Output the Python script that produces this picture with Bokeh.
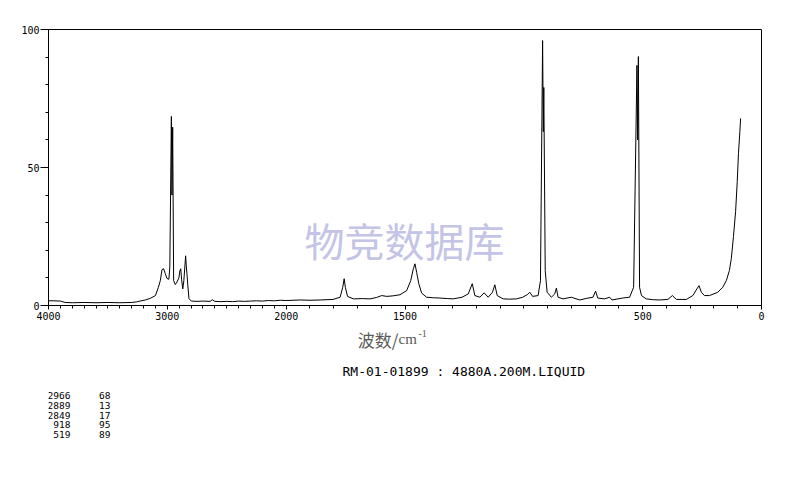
from bokeh.plotting import figure
from bokeh.models import Range1d, FixedTicker, Label, ColumnDataSource
from bokeh.layouts import column
from bokeh.embed import file_html
from bokeh.resources import INLINE

# ---- data ----
wavenumber = [4000, 3960, 3900, 3860, 3800, 3700, 3600, 3500, 3400, 3300, 3260, 3220,
              3185, 3143, 3100, 3076, 3059, 3045, 3031, 3017, 3003, 2987, 2979, 2966,
              2961, 2955, 2947, 2933, 2919, 2903, 2895, 2887, 2880, 2870, 2861, 2851,
              2846, 2840, 2835, 2828, 2818, 2798, 2750, 2700, 2640, 2622, 2600, 2550,
              2500, 2450, 2400, 2350, 2300, 2250, 2200, 2150, 2100, 2050, 2000,
              1941, 1900, 1857, 1803, 1773, 1762, 1756, 1751, 1742, 1717, 1680, 1647,
              1620, 1598, 1577, 1550, 1521, 1493, 1476, 1465, 1458, 1451, 1442, 1430,
              1409, 1380, 1353, 1320, 1297, 1260, 1234, 1217, 1206, 1185, 1167, 1150,
              1132, 1122, 1112, 1087, 1060, 1031, 1005, 986, 975, 963, 940, 930, 921,
              918, 916, 910, 902, 884, 870, 863, 856, 835, 800, 765, 735, 709, 698, 689,
              660, 639, 629, 585, 555, 538, 524, 521, 518, 513, 505, 485, 455, 429, 394,
              375, 358, 316, 289, 272, 263, 253, 240, 219, 184, 163, 148, 135, 127, 118,
              109, 102, 97, 91, 88]
intensity = [1.7, 1.7, 1.6, 1.1, 1.0, 1.1, 1.0, 1.1, 1.0, 1.1, 1.3, 1.7,
             2.0, 2.6, 3.6, 6.5, 9.0, 13.0, 13.3, 11.5, 9.8, 9.5, 14.0, 68.5,
             40.0, 64.6, 9.0, 7.6, 8.5, 10.0, 12.5, 13.3, 9.5, 6.0, 9.0, 15.0,
             18.0, 14.0, 11.6, 7.5, 2.5, 1.6, 1.5, 1.6, 1.5, 2.1, 1.5, 1.4,
             1.5, 1.4, 1.6, 1.5, 1.6, 1.7, 1.6, 1.8, 1.7, 1.9, 1.8,
             2.0, 1.9, 2.0, 2.2, 3.0, 6.6, 9.7, 6.6, 3.3, 2.4, 2.5, 2.4,
             2.9, 3.6, 3.3, 3.5, 3.9, 5.4, 9.0, 13.3, 15.1, 12.0, 7.9, 4.5,
             3.0, 2.8, 2.7, 2.5, 2.4, 3.0, 4.2, 7.9, 3.6, 3.0, 4.6, 3.0,
             4.8, 7.5, 3.6, 2.4, 2.3, 2.4, 3.0, 3.9, 4.8, 3.3, 3.6, 9.0, 96.0,
             63.0, 79.0, 12.7, 4.8, 3.0, 4.2, 6.3, 3.0, 2.4, 3.0, 2.0, 2.6, 3.0, 5.2, 2.7,
             2.4, 3.0, 2.0, 2.7, 3.0, 6.6, 87.0, 60.0, 90.2, 6.6, 3.6, 2.4, 2.1, 2.0, 2.2,
             3.6, 2.2, 2.2, 3.6, 6.0, 7.2, 4.8, 3.6, 3.6, 4.8, 6.6, 9.0, 12.7, 17.0, 25.0,
             34.0, 45.0, 55.0, 63.0, 67.8]

tick_wn = [4000, 3000, 2000, 1500, 500, 0]
y_ticks = [0, 50, 100]
peak_wn = [2966, 2889, 2849, 918, 519]
peak_int = [68, 13, 17, 95, 89]
title_text = "RM-01-01899 : 4880A.200M.LIQUID"
watermark = "物竞数据库"


def to_u(w):
    # axis is compressed 2x above 2000 cm-1
    return (4000 - w) / 1000.0 if w >= 2000 else 2.0 + (2000 - w) / 500.0


src = ColumnDataSource(dict(u=[to_u(w) for w in wavenumber], y=intensity))

# ---------------- spectrum panel ----------------
H1 = 323
p = figure(width=794, height=H1, x_range=Range1d(0, 6), y_range=Range1d(0, 100),
           output_backend="svg", toolbar_location=None,
           min_border_left=48, min_border_right=33, min_border_top=29, min_border_bottom=18)
p.background_fill_color = "white"
p.border_fill_color = "white"
p.outline_line_color = "black"
p.outline_line_width = 1
p.outline_line_alpha = 1
p.xgrid.visible = False
p.ygrid.visible = False

major_u = [to_u(w) for w in tick_wn]
minor_u = [to_u(w) for w in range(0, 4001, 100) if w not in tick_wn]
p.xaxis.ticker = FixedTicker(ticks=major_u, minor_ticks=minor_u)
p.xaxis.major_label_overrides = {u: str(w) for u, w in zip(major_u, tick_wn)}
p.yaxis.ticker = FixedTicker(ticks=y_ticks, minor_ticks=list(range(10, 100, 10)))

for ax in (p.xaxis[0], p.yaxis[0]):
    ax.axis_line_color = "black"
    ax.major_tick_line_color = "black"
    ax.minor_tick_line_color = "black"
    ax.major_tick_in = 0
    ax.minor_tick_in = 0
    ax.minor_tick_out = 3
    ax.major_label_text_font = "DejaVu Sans Mono"
    ax.major_label_text_font_size = "10px"
    ax.major_label_text_color = "black"
    ax.axis_label_standoff = 0
p.xaxis.major_tick_out = 4
p.xaxis.major_label_standoff = 2
p.yaxis.major_tick_out = 8
p.yaxis.major_label_standoff = 1

# watermark (screen coords are relative to the frame's bottom-left corner)
p.add_layout(Label(x=356, y=66, x_units="screen", y_units="screen", text=watermark,
                   text_font="Noto Sans CJK SC", text_font_size="40px",
                   text_color="#c4c4e6", text_align="center", text_baseline="middle",
                   level="underlay"))

p.line("u", "y", source=src, line_color="black", line_width=1)

# ---------------- text panel below ----------------
H2 = 482 - H1
q = figure(width=794, height=H2, x_range=Range1d(0, 794), y_range=Range1d(0, H2),
           output_backend="svg", toolbar_location=None,
           x_axis_type=None, y_axis_type=None,
           min_border_left=0, min_border_right=0, min_border_top=0, min_border_bottom=0)
q.outline_line_color = None
q.xgrid.visible = False
q.ygrid.visible = False
q.background_fill_color = "white"
q.border_fill_color = "white"

# the column aligns q's frame with p's (left edge 48 px)
X0, YB = 48, 482


def add_text(X, Y, text, font, size, color, align):
    q.add_layout(Label(x=X - X0, y=YB - Y, x_units="screen", y_units="screen", text=text,
                       text_font=font, text_font_size=size, text_color=color,
                       text_align=align, text_baseline="alphabetic"))


# axis title
add_text(398, 339, "波数/", "Noto Sans CJK SC", "17px", "#5a5a5a", "right")
add_text(398, 338.5, "cm", "Liberation Serif", "15px", "#5a5a5a", "left")
add_text(418, 332.5, "-1", "Liberation Serif", "10px", "#5a5a5a", "left")

# sample title
add_text(342, 371, title_text, "DejaVu Sans Mono", "13px", "black", "left")

# peak table
for i, (w, v) in enumerate(zip(peak_wn, peak_int)):
    yb = 395.3 + 9.6 * i
    add_text(70, yb, str(w), "DejaVu Sans Mono", "9.5px", "black", "right")
    add_text(110, yb, str(v), "DejaVu Sans Mono", "9.5px", "black", "right")

layout = column(p, q, spacing=0)
open("out.html", "w").write(file_html(layout, INLINE))
